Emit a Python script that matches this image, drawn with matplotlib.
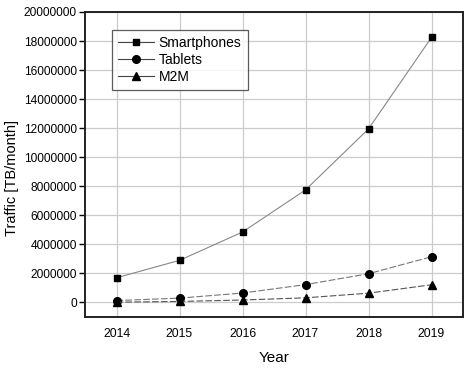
import matplotlib
matplotlib.use("Agg")
import matplotlib.pyplot as plt

plt.rcParams['font.family'] = ['Liberation Sans', 'DejaVu Sans']

years = [2014, 2015, 2016, 2017, 2018, 2019]
smartphones = [1700000, 2900000, 4850000, 7750000, 11950000, 18250000]
tablets = [130000, 300000, 650000, 1230000, 1980000, 3150000]
m2m = [20000, 70000, 170000, 320000, 640000, 1220000]
yticks = [0, 2000000, 4000000, 6000000, 8000000, 10000000, 12000000,
          14000000, 16000000, 18000000, 20000000]

fig = plt.figure(figsize=(4.74, 3.72), dpi=100)
ax = fig.add_axes([85/474, 1-317/372, (463-85)/474, (317-12)/372])

ax.plot(years, smartphones, color='#888888', lw=0.8, ls='-', marker='s',
        ms=5, mfc='black', mec='black', label='Smartphones', zorder=3)
ax.plot(years, tablets, color='#777777', lw=0.8, ls=(0, (6, 2)), marker='o',
        ms=5.5, mfc='black', mec='black', label='Tablets', zorder=3)
ax.plot(years, m2m, color='#555555', lw=0.8, ls=(0, (6, 2)), marker='^',
        ms=6, mfc='black', mec='black', label='M2M', zorder=3)

ax.set_xlim(2013.5, 2019.5)
ax.set_ylim(-1000000, 20000000)
ax.set_xticks(years)
ax.set_yticks(yticks)
ax.set_yticklabels([str(v) for v in yticks])
ax.grid(True, color='#cccccc', lw=0.9)
ax.set_axisbelow(True)
ax.tick_params(axis='x', length=0, pad=8, labelsize=8.8)
ax.tick_params(axis='y', length=4, width=1, direction='out', pad=2,
               labelsize=8.6)
for s in ax.spines.values():
    s.set_linewidth(1.4)
    s.set_color('#222222')

ax.set_xlabel('Year', fontsize=11, labelpad=8)
ax.set_ylabel('Traffic [TB/month]', fontsize=10.5)
ax.yaxis.set_label_coords(-0.175, 0.457)

leg = ax.legend(loc='upper left', bbox_to_anchor=((112-85)/378, (317-30)/305),
                fontsize=10, frameon=True, fancybox=False, handlelength=2.6,
                borderpad=0.45, labelspacing=0.2, handletextpad=0.3,
                borderaxespad=0)
leg.get_frame().set_edgecolor('#333333')
leg.get_frame().set_linewidth(0.9)
for line in leg.get_lines():
    line.set_linestyle('-')
    line.set_color('#444444')

fig.savefig('out.png', dpi=100)
